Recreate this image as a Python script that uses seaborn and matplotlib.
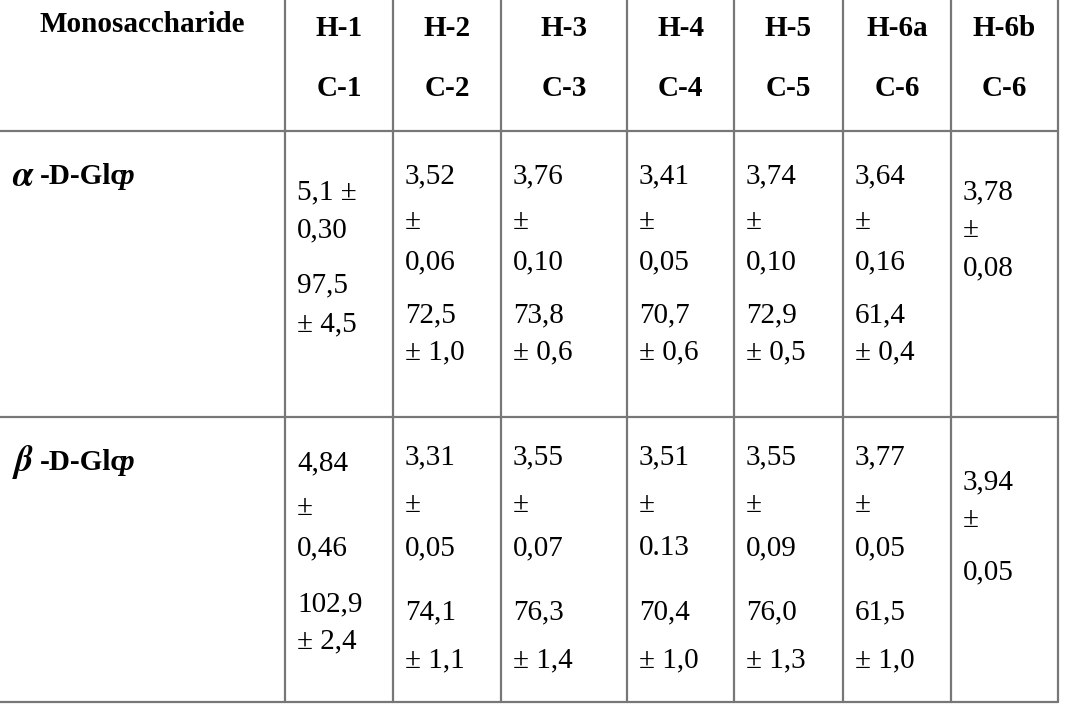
import matplotlib
matplotlib.use("Agg")
import matplotlib.pyplot as plt
import seaborn as sns

sns.set_theme(style="white")
plt.rcParams['font.family'] = ['Liberation Serif', 'DejaVu Serif']
plt.rcParams['text.color'] = 'black'
plt.rcParams['mathtext.fontset'] = 'stix'

header_h = ["H-1", "H-2", "H-3", "H-4", "H-5", "H-6a", "H-6b"]
header_c = ["C-1", "C-2", "C-3", "C-4", "C-5", "C-6", "C-6"]
alpha_h = ["5,1 ±", "3,52", "3,76", "3,41", "3,74", "3,64", "3,78"]
alpha_hsd = ["0,30", "0,06", "0,10", "0,05", "0,10", "0,16", "0,08"]
alpha_c = ["97,5", "72,5", "73,8", "70,7", "72,9", "61,4", ""]
alpha_csd = ["± 4,5", "± 1,0", "± 0,6", "± 0,6", "± 0,5", "± 0,4", ""]
beta_h = ["4,84", "3,31", "3,55", "3,51", "3,55", "3,77", "3,94"]
beta_hsd = ["0,46", "0,05", "0,07", "0.13", "0,09", "0,05", "0,05"]
beta_c = ["102,9", "74,1", "76,3", "70,4", "76,0", "61,5", ""]
beta_csd = ["± 2,4", "± 1,1", "± 1,4", "± 1,0", "± 1,3", "± 1,0", ""]

fig = plt.figure(figsize=(10.8, 7.11), dpi=100)
ax = fig.add_axes([0, 0, 1, 1])
ax.set_xlim(0, 1080); ax.set_ylim(711, 0); ax.axis("off")

vx = [285, 393, 501, 627, 734, 843, 951, 1058]
lc = "#777777"
for x in vx:
    ax.plot([x, x], [0, 702], color=lc, lw=1.6)
for y in [131, 417, 702]:
    ax.plot([0, 1058], [y, y], color=lc, lw=1.6)

fs = 21
ax.text(142, 25, "Monosaccharide", ha="center", va="center", fontsize=fs, weight="bold")
for i in range(7):
    cx = (vx[i] + vx[i+1]) / 2
    ax.text(cx, 28, header_h[i], ha="center", va="center", fontsize=fs, weight="bold")
    ax.text(cx, 89, header_c[i], ha="center", va="center", fontsize=fs, weight="bold")

for lab, y in [(r"$\boldsymbol{\alpha}$", 177), (r"$\boldsymbol{\beta}$", 462)]:
    ax.text(12, y, lab, fontsize=fs + 5, va="center")
    ax.text(40, y, "-D-Glc", fontsize=fs, weight="bold", va="center")
    ax.text(119, y, "p", fontsize=fs, weight="bold", style="italic", va="center")

def cell(x, lines, ys):
    for t, y in zip(lines, ys):
        ax.text(x, y, t, fontsize=fs, va="center", ha="left")

for i in range(7):
    x = vx[i] + 12
    if i == 0:
        cell(x, [alpha_h[i], alpha_hsd[i], alpha_c[i], alpha_csd[i]], [192, 230, 285, 324])
        cell(x, [beta_h[i], "±", beta_hsd[i], beta_c[i], beta_csd[i]], [463, 508, 548, 604, 641])
    elif i == 6:
        cell(x, [alpha_h[i], "±", alpha_hsd[i]], [192, 230, 268])
        cell(x, [beta_h[i], "±", beta_hsd[i]], [482, 520, 572])
    else:
        cell(x, [alpha_h[i], "±", alpha_hsd[i], alpha_c[i], alpha_csd[i]], [176, 222, 262, 315, 352])
        cell(x, [beta_h[i], "±", beta_hsd[i], beta_c[i], beta_csd[i]], [457, 505, 548, 612, 660])

fig.savefig("out.png", dpi=100)
